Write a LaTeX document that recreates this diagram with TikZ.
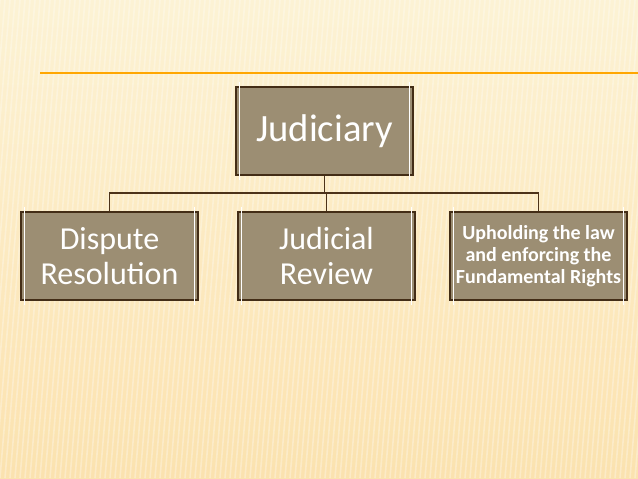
\documentclass[tikz,border=0pt]{standalone}
\usepackage{fontspec}
\setmainfont{Carlito}
\begin{document}
\begin{tikzpicture}[x=0.75pt,y=-0.75pt,
  box/.style={draw=black!65!brown,line width=1pt,fill=boxc,minimum width=177*0.75pt,minimum height=88*0.75pt,text=white,align=center,inner sep=2pt},
  conn/.style={draw=black!60!brown,line width=1pt}]
\definecolor{boxc}{HTML}{9C8E73}
\definecolor{bgc}{HTML}{FBEDC2}
\useasboundingbox (0,0) rectangle (638,478);
\shade[top color=bgc!70!white,bottom color=bgc!90!orange] (0,0) rectangle (638,478);
\foreach \i in {-10,...,160}{\draw[white,opacity=0.3,line width=1.2pt] (\i*5,0) -- (\i*5-40,478);}
\draw[orange!70!yellow,line width=0.8pt] (40,73) -- (638,73);
\node[box,font=\fontsize{29}{32}\selectfont] (top) at (324.5,131) {Judiciary};
\node[box,font=\fontsize{24}{26}\selectfont] (a) at (109.5,256) {Dispute\\Resolution};
\node[box,font=\fontsize{24}{26}\selectfont] (b) at (326.5,256) {Judicial\\Review};
\node[box,font=\bfseries\fontsize{15}{16.5}\selectfont,inner sep=0pt] (c) at (538.5,256) {Upholding the law\\and enforcing the\\Fundamental Rights};
\foreach \n in {top,a,b,c}{
  \draw[white,line width=1pt] ([shift={(4,-4)}]\n.north west) -- ([shift={(4,4)}]\n.south west);
  \draw[white,line width=1pt] ([shift={(-4,-4)}]\n.north east) -- ([shift={(-4,4)}]\n.south east);
}
\coordinate (h) at (324.5,193);
\draw[conn] (top.south) -- (h);
\draw[conn] (a.north) |- (h) -| (c.north);
\draw[conn] (h) -| (b.north);
\end{tikzpicture}
\end{document}
